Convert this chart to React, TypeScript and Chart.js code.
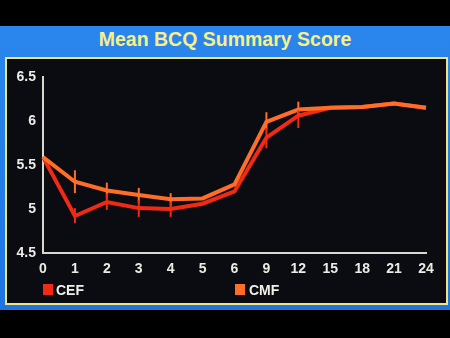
import React, { useEffect, useRef } from "react";
import { Chart, registerables } from "chart.js";

Chart.register(...registerables);

const months = ["0", "1", "2", "3", "4", "5", "6", "9", "12", "15", "18", "21", "24"];
const cefValues = [5.59, 4.92, 5.08, 5.01, 5.0, 5.06, 5.2, 5.81, 6.06, 6.15, 6.16, 6.2, 6.15];
const cmfValues = [5.59, 5.31, 5.21, 5.16, 5.11, 5.12, 5.28, 5.99, 6.13, 6.15, 6.16, 6.2, 6.15];
const cefErrLow: (number | null)[] = [null, 4.84, 4.99, 4.91, 4.91, null, null, 5.69, 5.92, null, null, null, null];
const cefErrHigh: (number | null)[] = [null, 5.01, 5.17, 5.1, 5.08, null, null, 5.92, 6.12, null, null, null, null];
const cmfErrLow: (number | null)[] = [null, 5.18, 5.12, 5.07, 5.03, null, null, 5.9, 6.05, null, null, null, null];
const cmfErrHigh: (number | null)[] = [null, 5.44, 5.3, 5.24, 5.18, null, null, 6.1, 6.22, null, null, null, null];
const yTicks = [4.5, 5, 5.5, 6, 6.5];
const yTickLabels = ["4.5", "5", "5.5", "6", "6.5"];

const CEF_COLOR = "#f02a14";
const CMF_COLOR = "#ff6e28";

const errorBarPlugin = {
  id: "errorBars",
  afterDatasetsDraw(chart: any) {
    const ctx = chart.ctx;
    const xs = chart.scales.x;
    const ys = chart.scales.y;
    chart.data.datasets.forEach((ds: any) => {
      const lows = ds.errLow as (number | null)[];
      const highs = ds.errHigh as (number | null)[];
      if (!lows) return;
      ctx.save();
      ctx.strokeStyle = ds.borderColor;
      ctx.lineWidth = 2;
      lows.forEach((lo, i) => {
        const hi = highs[i];
        if (lo == null || hi == null) return;
        const x = xs.getPixelForValue(i);
        ctx.beginPath();
        ctx.moveTo(x, ys.getPixelForValue(lo));
        ctx.lineTo(x, ys.getPixelForValue(hi));
        ctx.stroke();
      });
      ctx.restore();
    });
  },
};

export default function App() {
  const ref = useRef<HTMLCanvasElement>(null);
  useEffect(() => {
    if (!ref.current) return;
    const font = { family: "'Liberation Sans', Arial, sans-serif", size: 14, weight: "bold" as const };
    const chart = new Chart(ref.current, {
      type: "line",
      data: {
        labels: months,
        datasets: [
          {
            label: "CMF",
            data: cmfValues,
            borderColor: CMF_COLOR,
            backgroundColor: CMF_COLOR,
            borderWidth: 4,
            pointRadius: 0,
            tension: 0,
            errLow: cmfErrLow,
            errHigh: cmfErrHigh,
          } as any,
          {
            label: "CEF",
            data: cefValues,
            borderColor: CEF_COLOR,
            backgroundColor: CEF_COLOR,
            borderWidth: 4,
            pointRadius: 0,
            tension: 0,
            errLow: cefErrLow,
            errHigh: cefErrHigh,
          } as any,
        ],
      },
      options: {
        animation: false,
        responsive: false,
        maintainAspectRatio: false,
        layout: { padding: { left: 0, right: 24, top: 77, bottom: 55 } },
        plugins: { legend: { display: false }, tooltip: { enabled: false }, title: { display: false } },
        scales: {
          x: {
            type: "category",
            offset: false,
            grid: { display: false, drawTicks: false },
            border: { display: true, color: "#d8d8d0", width: 2 },
            ticks: { color: "#ececE4", font, padding: 8, maxRotation: 0, autoSkip: false },
            afterFit: (s: any) => { s.height = 30; },
          },
          y: {
            min: 4.5,
            max: 6.5,
            afterBuildTicks: (s: any) => { s.ticks = yTicks.map((v) => ({ value: v })); },
            grid: { display: false, drawTicks: false },
            border: { display: true, color: "#d8d8d0", width: 2 },
            ticks: {
              color: "#ececE4",
              font,
              padding: 7,
              callback: (v: any) => {
                const i = yTicks.indexOf(Number(v));
                return i >= 0 ? yTickLabels[i] : "";
              },
            },
            afterFit: (s: any) => { s.width = 43; },
          },
        },
      },
      plugins: [errorBarPlugin],
    });
    return () => chart.destroy();
  }, []);

  const legendText: React.CSSProperties = {
    position: "absolute",
    fontFamily: "'Liberation Sans', Arial, sans-serif",
    fontWeight: "bold",
    fontSize: 14,
    color: "#f0f0e8",
    lineHeight: "14px",
    top: 283,
  };

  return (
    <div style={{ position: "absolute", left: 0, top: 0, width: 450, height: 338, background: "#000", overflow: "hidden" }}>
      <div style={{ position: "absolute", left: 0, top: 26, width: 450, height: 284, background: "linear-gradient(180deg, #2a86ec, #1f74e0)" }} />
      <div
        style={{
          position: "absolute",
          left: 0,
          top: 27,
          width: 450,
          textAlign: "center",
          fontFamily: "'Liberation Sans', Arial, sans-serif",
          fontWeight: "bold",
          fontSize: 19.5,
          color: "#f7f08a",
          lineHeight: "24px",
        }}
      >
        Mean BCQ Summary Score
      </div>
      <div style={{ position: "absolute", left: 5, top: 57, width: 439, height: 244, background: "#0b0b12", border: "2px solid #eee48c" }} />
      <canvas ref={ref} width={450} height={338} style={{ position: "absolute", left: 0, top: 0, width: 450, height: 338 }} />
      <div style={{ position: "absolute", left: 43, top: 284, width: 10, height: 11, background: CEF_COLOR }} />
      <div style={{ ...legendText, left: 56 }}>CEF</div>
      <div style={{ position: "absolute", left: 235, top: 284, width: 10, height: 11, background: CMF_COLOR }} />
      <div style={{ ...legendText, left: 249 }}>CMF</div>
    </div>
  );
}
